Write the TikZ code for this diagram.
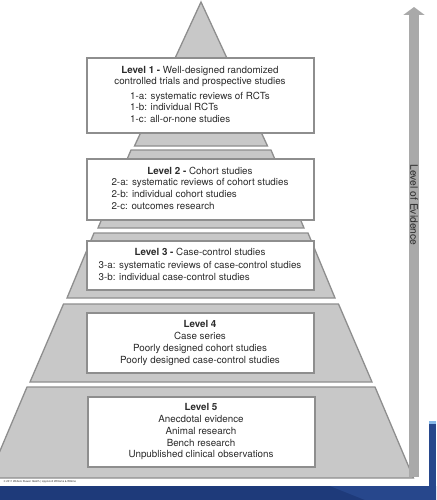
\documentclass[tikz,border=0pt]{standalone}
\usepackage{fontspec}
\setmainfont{TeX Gyre Heros}
\usetikzlibrary{positioning,arrows.meta}

\definecolor{slicegray}{HTML}{C8C8C8}
\definecolor{edgegray}{HTML}{8E8E8E}
\definecolor{arrowgray}{HTML}{A9A9A9}
\definecolor{textgray}{HTML}{2B2B2B}
\definecolor{slidenavy}{HTML}{1E3A7A}
\definecolor{slideblue}{HTML}{27478C}
\definecolor{slidesky}{HTML}{86B8E8}

% one layer of the pyramid: top y, top half width, bottom y, bottom half width
\newcommand\pyrslice[4]{%
  \filldraw[slice] ({201-#2},#1) -- ({201+#2},#1) -- ({201+#4},#3) -- ({201-#4},#3) -- cycle;}

\begin{document}
\begin{tikzpicture}[
  x=1pt, y=-1pt,
  slice/.style={
    fill=slicegray,
    draw=edgegray,
    line width=1.3pt,
    line join=miter
  },
  levelbox/.style={
    draw=edgegray,
    fill=white,
    line width=2pt,
    minimum width=227pt,
    inner sep=0pt,
    text=textgray,
    font=\fontsize{9.8}{11.8}\selectfont
  },
  evarrow/.style={
    draw=arrowgray,
    line width=10pt,
    -{Triangle[width=21pt,length=8pt]}
  },
  evlabel/.style={font=\fontsize{10.3}{12}\selectfont, text=textgray},
  credit/.style={font=\fontsize{2.7}{3}\selectfont, text=textgray}
]
\clip (0,0) rectangle (436,500);
\useasboundingbox (0,0) rectangle (436,500);

% slide frame
\fill[slidenavy] (0,486) rectangle (436,500);
\fill[slideblue] (330,486) -- (436,486) -- (436,500) -- (365,500) -- cycle;
\fill[slideblue] (429,423) rectangle (436,500);
\fill[slidesky] (429,421) rectangle (436,424);

% pyramid
\pyrslice{2}{0}{146}{66.5}
\pyrslice{150}{70}{228}{103}
\pyrslice{233}{107}{298}{134}
\pyrslice{304}{137.5}{382}{171}
\pyrslice{387}{174}{478}{212.5}

\node[levelbox, minimum height=75pt] (lvl1) at (200,95.5) {%
  \begin{tabular}{@{}c@{}}
    \textbf{Level 1 -} Well-designed randomized\\
    controlled trials and prospective studies\\[2.5pt]
    \begin{tabular}[t]{@{}l@{}}
      1-a: systematic reviews of RCTs\\
      1-b: individual RCTs\\
      1-c: all-or-none studies
    \end{tabular}
  \end{tabular}};

\node[levelbox, minimum height=61pt] (lvl2) at (200,189.5) {%
  \begin{tabular}{@{}c@{}}
    \textbf{Level 2 -} Cohort studies\\
    \begin{tabular}[t]{@{}l@{}}
      2-a: systematic reviews of cohort studies\\
      2-b: individual cohort studies\\
      2-c: outcomes research
    \end{tabular}
  \end{tabular}};

\node[levelbox, minimum height=49pt] (lvl3) at (200,265.5) {%
  \begin{tabular}{@{}c@{}}
    \textbf{Level 3 -} Case-control studies\\[1pt]
    \begin{tabular}[t]{@{}l@{}}
      3-a: systematic reviews of case-control studies\\
      3-b: individual case-control studies
    \end{tabular}
  \end{tabular}};

\node[levelbox, minimum height=60pt] (lvl4) at (200,343) {%
  \begin{tabular}{@{}c@{}}
    \textbf{Level 4}\\
    Case series\\
    Poorly designed cohort studies\\
    Poorly designed case-control studies
  \end{tabular}};

\node[levelbox, minimum height=70pt] (lvl5) at (201,432) {%
  \begin{tabular}{@{}c@{}}
    \textbf{Level 5}\\
    Anecdotal evidence\\
    Animal research\\
    Bench research\\
    Unpublished clinical observations
  \end{tabular}};

% level of evidence arrow
\coordinate (evbase) at (414,477);
\coordinate (evtip) at (414,7);
\draw[evarrow] (evbase) -- (evtip);
\node[evlabel, rotate=-90] (evtext) at (414,205) {Level of Evidence};

\node[credit, anchor=west] (source) at (0,482) {\textcopyright{} 2011 Wolters Kluwer Health | Lippincott Williams \& Wilkins};

\end{tikzpicture}
\end{document}
